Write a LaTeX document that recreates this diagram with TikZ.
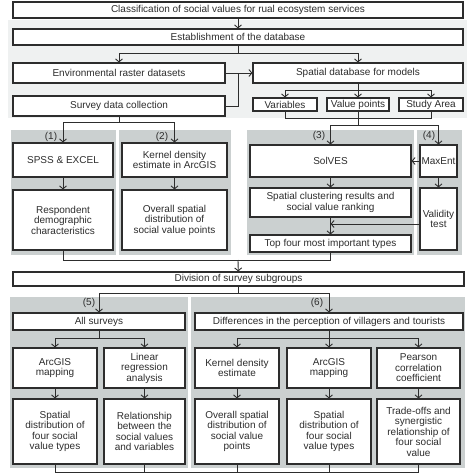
\documentclass[tikz,border=0pt]{standalone}
\usepackage{fontspec}
\setmainfont{Liberation Sans}
\usepackage{xcolor}
\usepackage{tikz}
\usetikzlibrary{arrows.meta}
\definecolor{panelgray}{RGB}{203,208,208}
\definecolor{lightpanel}{RGB}{239,241,241}
\definecolor{inkgray}{RGB}{45,45,45}

\begin{document}
\begin{tikzpicture}[x=1pt, y=-1pt,
    box/.style={draw=inkgray, line width=1.1pt, fill=white, align=center, inner sep=0pt,
      text=inkgray, font=\fontsize{10}{10.5}\selectfont},
    numlabel/.style={text=inkgray, font=\fontsize{10}{10.5}\selectfont, inner sep=0pt},
    link/.style={draw=inkgray, line width=0.9pt},
    >={Straight Barb[length=3pt,width=7pt]}]
    \useasboundingbox (0,0) rectangle (474,474);
    \fill[lightpanel] (8,20) rectangle (467,118);
    \fill[panelgray] (11,130) rectangle (116,255);
    \fill[panelgray] (119,130) rectangle (231,255);
    \fill[panelgray] (247,130) rectangle (414,255);
    \fill[panelgray] (417,130) rectangle (462,255);
    \fill[panelgray] (10,297) rectangle (188,468);
    \fill[panelgray] (191,297) rectangle (465,468);

    \node[box, minimum width=450pt, minimum height=16pt] (classif) at (238,10) {Classification of social values for rual ecosystem services};
    \node[box, minimum width=450pt, minimum height=16pt] (establ) at (238,37) {Establishment of the database};
    \node[box, minimum width=212pt, minimum height=20pt] (env) at (119,73) {Environmental raster datasets};
    \node[box, minimum width=212pt, minimum height=20pt] (survey) at (119,106) {Survey data collection};
    \node[box, minimum width=210pt, minimum height=20pt] (spatialdb) at (358,73) {Spatial database for models};
    \node[box, minimum width=64pt, minimum height=13pt] (variables) at (285,104.5) {Variables};
    \node[box, minimum width=62pt, minimum height=13pt] (valuepts) at (358,104.5) {Value points};
    \node[box, minimum width=64pt, minimum height=13pt] (studyarea) at (431,104.5) {Study Area};

    \node[box, minimum width=100pt, minimum height=34pt] (spss) at (63,160) {SPSS \& EXCEL};
    \node[box, minimum width=100pt, minimum height=60pt] (resp) at (63,220) {Respondent\\demographic\\characteristics};
    \node[box, minimum width=105pt, minimum height=34pt] (kernelA) at (174.5,160) {Kernel density\\estimate in ArcGIS};
    \node[box, minimum width=105pt, minimum height=60pt] (overallA) at (174.5,220) {Overall spatial\\distribution of\\social value points};
    \node[box, minimum width=161pt, minimum height=32pt] (solves) at (330.5,161) {SolVES};
    \node[box, minimum width=161pt, minimum height=29pt] (cluster) at (330.5,202.5) {Spatial clustering results and\\social value ranking};
    \node[box, minimum width=161pt, minimum height=17pt] (topfour) at (330.5,243.5) {Top four most important types};
    \node[box, minimum width=37pt, minimum height=32pt] (maxent) at (438.5,161) {MaxEnt};
    \node[box, minimum width=37pt, minimum height=62pt] (validity) at (438.5,219) {Validity\\test};

    \node[box, minimum width=451pt, minimum height=14pt] (division) at (238.5,279) {Division of survey subgroups};
    \node[box, minimum width=172pt, minimum height=17pt] (allsurv) at (99,321.5) {All surveys};
    \node[box, minimum width=268pt, minimum height=17pt] (differ) at (329,321.5) {Differences in the perception of villagers and tourists};
    \node[box, minimum width=84pt, minimum height=40pt] (arcA) at (55,368) {ArcGIS\\mapping};
    \node[box, minimum width=81pt, minimum height=40pt] (linear) at (144.5,368) {Linear\\regression\\analysis};
    \node[box, minimum width=84pt, minimum height=40pt] (kernelB) at (237,368) {Kernel density\\estimate};
    \node[box, minimum width=84pt, minimum height=40pt] (arcB) at (329,368) {ArcGIS\\mapping};
    \node[box, minimum width=83pt, minimum height=40pt] (pearson) at (418.5,368) {Pearson\\correlation\\coefficient};
    \node[box, minimum width=84pt, minimum height=65pt] (spatA) at (55,431.5) {Spatial\\distribution of\\four social\\value types};
    \node[box, minimum width=81pt, minimum height=65pt] (relation) at (144.5,431.5) {Relationship\\between the\\social values\\and variables};
    \node[box, minimum width=84pt, minimum height=65pt] (overallB) at (237,431.5) {Overall spatial\\distribution of\\social value\\points};
    \node[box, minimum width=84pt, minimum height=65pt] (spatB) at (329,431.5) {Spatial\\distribution of\\four social\\value types};
    \node[box, minimum width=83pt, minimum height=65pt] (trade) at (418.5,431.5) {Trade-offs and\\synergistic\\relationship of\\four social\\value};

    \node[numlabel] (lab1) at (51,137) {(1)};
    \node[numlabel] (lab2) at (162,137) {(2)};
    \node[numlabel] (lab3) at (319,136) {(3)};
    \node[numlabel] (lab4) at (429,136) {(4)};
    \node[numlabel] (lab5) at (89,303) {(5)};
    \node[numlabel] (lab6) at (317,303) {(6)};

    \coordinate (joinA) at (238,73);
    \coordinate (merge) at (330.5,224);
    \coordinate (joinB) at (238,260);

    \draw[link, ->] (classif) -- (establ);
    \draw[link, ->] (establ.south) -- ++(0,8) -| (env);
    \draw[link, ->] (establ.south) -- ++(0,8) -| (spatialdb);
    \draw[link, ->] (env) -- (spatialdb);
    \draw[link] (survey.east) -| (joinA);
    \draw[link, ->] (spatialdb.south) -- ++(0,7) -| (variables);
    \draw[link, ->] (spatialdb.south) -- ++(0,7) -| (studyarea);
    \draw[link, ->] (spatialdb) -- (valuepts);
    \draw[link] (variables.south) -- ++(0,7) -| (studyarea.south);
    \draw[link, ->] (valuepts.south) -- ++(0,14) -| (solves);
    \draw[link, ->] (valuepts.south) -- ++(0,14) -| (maxent);
    \draw[link, ->] (survey.south) -- ++(0,6) -| (spss);
    \draw[link, ->] (survey.south) -- ++(0,6) -| (kernelA);
    \draw[link, ->] (spss) -- (resp);
    \draw[link, ->] (kernelA) -- (overallA);
    \draw[link, ->] (solves) -- (cluster);
    \draw[link, ->] (cluster) -- (topfour);
    \draw[link, ->] (maxent) -- (solves);
    \draw[link, ->] (maxent) -- (validity);
    \draw[link, ->] (validity.west |- merge) -- (merge);
    \draw[link] (resp.south) -- ++(0,10) -| (topfour.south);
    \draw[link, ->] (joinB) -- (division);
    \draw[link, ->] (division.south) -- ++(0,7) -| (allsurv);
    \draw[link, ->] (division.south) -- ++(0,7) -| (differ);
    \draw[link, ->] (allsurv.south) -- ++(0,8) -| (arcA);
    \draw[link, ->] (allsurv.south) -- ++(0,8) -| (linear);
    \draw[link, ->] (differ.south) -- ++(0,8) -| (kernelB);
    \draw[link, ->] (differ.south) -- ++(0,8) -| (pearson);
    \draw[link, ->] (differ) -- (arcB);
    \draw[link, ->] (arcA) -- (spatA);
    \draw[link, ->] (linear) -- (relation);
    \draw[link, ->] (kernelB) -- (overallB);
    \draw[link, ->] (arcB) -- (spatB);
    \draw[link, ->] (pearson) -- (trade);
    \draw[link] (spatA.south) -- ++(0,8) -| (trade.south);
    \draw[link] (relation.south) -- ++(0,8);
    \draw[link] (overallB.south) -- ++(0,8);
    \draw[link] (spatB.south) -- ++(0,8);
  \end{tikzpicture}
\end{document}
